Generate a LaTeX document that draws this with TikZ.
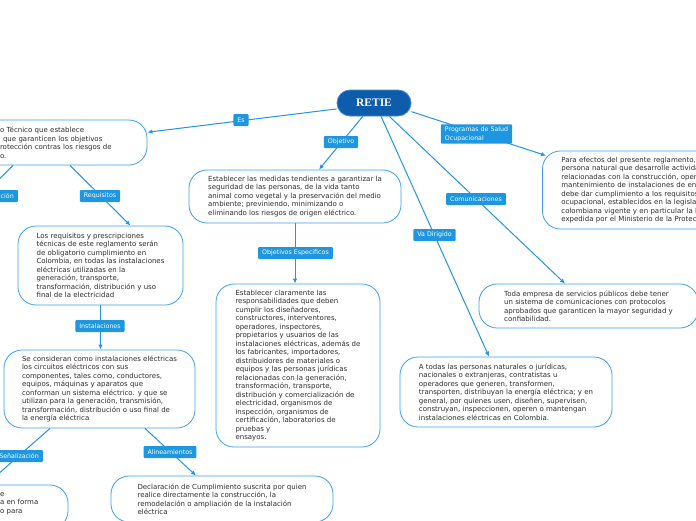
\documentclass[tikz,border=0pt]{standalone}
\usepackage{fontspec}
\setmainfont{DejaVu Sans}
\newfontfamily\titlefont{Liberation Serif}
\usetikzlibrary{arrows.meta, positioning}
\definecolor{mm-line}{RGB}{36,148,222}
\definecolor{mm-border}{RGB}{62,160,228}
\definecolor{mm-tag}{RGB}{30,150,225}
\definecolor{mm-root}{RGB}{14,92,172}
\definecolor{mm-rootedge}{RGB}{64,138,212}
\definecolor{mm-text}{RGB}{45,45,45}

\begin{document}
\begin{tikzpicture}[x=1pt, y=-1pt,
    textbox/.style={draw=mm-border, line width=0.8pt, fill=white, rounded corners=18pt,
        align=left, text=mm-text, font=\fontsize{7}{8.5}\selectfont, inner xsep=4pt, inner ysep=3pt},
    tag/.style={fill=mm-tag, text=white, rounded corners=1pt, font=\fontsize{6.3}{9.3}\selectfont,
        inner xsep=4pt, inner ysep=1pt, minimum height=12pt},
    link/.style={draw=mm-line, line width=1pt},
    arrowlink/.style={link, -{Latex[length=5pt, width=4.5pt]}}]

    \useasboundingbox (0,0) rectangle (696,520);
    \clip (0,0) rectangle (696,520);

    % ===== Root =====
    \node[fill=mm-root, draw=mm-rootedge, line width=0.8pt, text=white, rounded corners=13pt,
        minimum width=74pt, minimum height=26pt,
        font=\titlefont\bfseries\fontsize{11.5}{12}\selectfont] (retie) at (374,103) {RETIE};

    % ===== Boxes =====
    \node[textbox, text width=128pt, inner xsep=19pt, minimum height=45pt] (esbox) at (64,142.5)
        {o Técnico que establece\\
         \hspace*{3pt}que garanticen los objetivos\\
         rotección contras los riesgos de\\
         o.};
    \node[textbox, minimum width=212pt, minimum height=53pt] (objbox) at (295,196.5)
        {Establecer las medidas tendientes a garantizar la\\
         seguridad de las personas, de la vida tanto\\
         animal como vegetal y la preservación del medio\\
         ambiente; previniendo, minimizando o\\
         eliminando los riesgos de origen eléctrico.};
    \node[textbox, minimum width=164pt, minimum height=163pt] (espbox) at (298,365.5)
        {Establecer claramente las\\
         responsabilidades que deben\\
         cumplir los diseñadores,\\
         constructores, interventores,\\
         operadores, inspectores,\\
         propietarios y usuarios de las\\
         instalaciones eléctricas, además de\\
         los fabricantes, importadores,\\
         distribuidores de materiales o\\
         equipos y las personas jurídicas\\
         relacionadas con la generación,\\
         transformación, transporte,\\
         distribución y comercialización de\\
         electricidad, organismos de\\
         inspección, organismos de\\
         certificación, laboratorios de\\
         pruebas y\\
         ensayos.};
    \node[textbox, minimum width=165pt, minimum height=79pt] (reqbox) at (100.5,265.5)
        {Los requisitos y prescripciones\\
         técnicas de este reglamento serán\\
         de obligatorio cumplimiento en\\
         Colombia, en todas las instalaciones\\
         eléctricas utilizadas en la\\
         generación, transporte,\\
         transformación, distribución y uso\\
         final de la electricidad};
    \node[textbox, minimum width=191pt, minimum height=78pt] (instbox) at (99.5,389)
        {Se consideran como instalaciones eléctricas\\
         los circuitos eléctricos con sus\\
         componentes, tales como, conductores,\\
         equipos, máquinas y aparatos que\\
         conforman un sistema eléctrico. y que se\\
         utilizan para la generación, transmisión,\\
         transformación, distribución o uso final de\\
         la energía eléctrica};
    \node[textbox, text width=49pt, inner xsep=19pt, minimum height=44pt] (senbox) at (24.5,507)
        {e\\
         a en forma\\
         o para\\
         \mbox{}};
    \node[textbox, minimum width=222pt, minimum height=46pt] (alinbox) at (222,499)
        {Declaración de Cumplimiento suscrita por quien\\
         realice directamente la construcción, la\\
         remodelación o ampliación de la instalación\\
         eléctrica};
    \node[textbox, minimum width=212pt, minimum height=70pt] (vabox) at (506,392)
        {A todas las personas naturales o jurídicas,\\
         nacionales o extranjeras, contratistas u\\
         operadores que generen, transformen,\\
         transporten, distribuyan la energía eléctrica; y en\\
         general, por quienes usen, diseñen, supervisen,\\
         construyan, inspeccionen, operen o mantengan\\
         instalaciones eléctricas en Colombia.};
    \node[textbox, minimum width=219pt, minimum height=44pt] (comubox) at (588.5,306)
        {Toda empresa de servicios públicos debe tener\\
         un sistema de comunicaciones con protocolos\\
         aprobados que garanticen la mayor seguridad y\\
         confiabilidad.};
    \node[textbox, anchor=west, text width=200pt, inner xsep=19pt, minimum height=78pt] (progbox) at (542,190)
        {Para efectos del presente reglamento,\\
         persona natural que desarrolle activida\\
         relacionadas con la construcción, opera\\
         mantenimiento de instalaciones de ene\\
         debe dar cumplimiento a los requisitos\\
         ocupacional, establecidos en la legislac\\
         colombiana vigente y en particular la R\\
         expedida por el Ministerio de la Protec};

    % free ends leaving the page
    \coordinate (offclas) at (-40,218);
    \coordinate (offsen) at (-20,490);

    % ===== Connectors =====
    \draw[arrowlink] (retie.189) -- (esbox.7);
    \draw[arrowlink] (retie.230) -- ([xshift=24pt]objbox.north);
    \draw[arrowlink] (objbox.south) -- (objbox.south |- espbox.north);
    \draw[arrowlink] ([xshift=6pt]esbox.south) -- ([xshift=30pt]reqbox.north);
    \draw[link] ([xshift=-51pt]esbox.south) -- (offclas);
    \draw[arrowlink] (reqbox.south) -- (reqbox.south |- instbox.north);
    \draw[link] ([xshift=-49.5pt]instbox.south) -- (offsen);
    \draw[arrowlink] ([xshift=45.5pt]instbox.south) -- ([xshift=-26pt]alinbox.north);
    \draw[arrowlink] (retie.298) -- ([xshift=-17pt]vabox.north);
    \draw[arrowlink] (retie.319) -- ([xshift=-23.5pt]comubox.north);
    \draw[arrowlink] (retie.347) -- ([xshift=4pt, yshift=-5pt]progbox.north west);

    % ===== Connector labels =====
    \node[tag] (tes) at (241,120) {Es};
    \node[tag] (tobj) at (341,142) {Objetivo};
    \node[tag] (tesp) at (295.5,253) {Objetivos Especificos};
    \node[tag] (treq) at (100,196) {Requisitos};
    \node[tag, anchor=east, text width=32pt, align=right] (tclas) at (18,196) {ción};
    \node[tag] (tinst) at (100,326) {Instalaciones};
    \node[tag, anchor=east] (tsen) at (43,456) {Señalización};
    \node[tag] (talin) at (170,452) {Alineamientos};
    \node[tag] (tva) at (434.5,235) {Va Dirigido};
    \node[tag] (tcomu) at (476,199) {Comunicaciones};
    \node[tag, align=left, inner ysep=2pt] (tprog) at (476.5,134) {Programas de Salud\\Ocupacional};

\end{tikzpicture}
\end{document}
